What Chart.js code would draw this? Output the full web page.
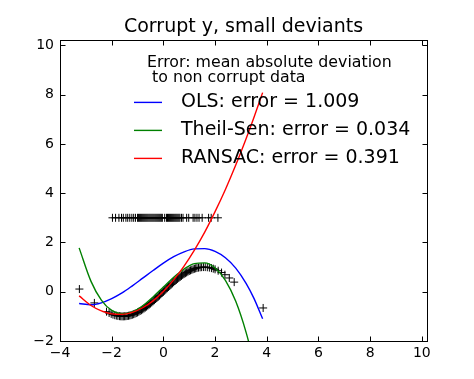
<!DOCTYPE html>
<html><head><meta charset="utf-8">
<script src="https://cdn.jsdelivr.net/npm/chart.js@4.4.0/dist/chart.umd.min.js"></script>
<style>html,body{margin:0;padding:0;background:#fff;overflow:hidden}</style>
</head><body>
<canvas id="c" width="474" height="379" style="display:block;width:474px;height:379px"></canvas>
<script>
// ---------- data ----------
const chartTitle = 'Corrupt y, small deviants';
const legendTitle = ['Error: mean absolute deviation', ' to non corrupt data'];
const seriesNames = ['OLS: error = 1.009', 'Theil-Sen: error = 0.034', 'RANSAC: error = 0.391'];
const seriesColors = ['#0000ff', '#008000', '#ff0000'];
const xTicks = [-4, -2, 0, 2, 4, 6, 8, 10];
const yTicks = [-2, 0, 2, 4, 6, 8, 10];

const xPlot   = [-3.26, -2.8, -2.4, -2.0, -1.6, -1.2, -0.8, -0.4, 0, 0.4, 0.8, 1.2, 1.6, 2.0, 2.4, 2.8, 3.2, 3.5, 3.84];
const olsY    = [-0.48, -0.53, -0.45, -0.28, -0.05, 0.24, 0.55, 0.86, 1.16, 1.42, 1.62, 1.74, 1.75, 1.64, 1.38, 0.96, 0.34, -0.26, -1.10];
const theilY  = [1.78, 0.42, -0.34, -0.76, -0.90, -0.82, -0.57, -0.21, 0.19, 0.59, 0.92, 1.14, 1.17, 0.96, 0.46, -0.39, -1.65, -2.90, -4.67];
const ransacY = [-0.17, -0.56, -0.78, -0.90, -0.92, -0.84, -0.65, -0.37, 0.01, 0.48, 1.04, 1.69, 2.42, 3.25, 4.15, 5.14, 6.21, 7.06, 8.08];

const inlierX = [-3.25, -2.67, -2.2, -2.1, -2.02, -1.95, -1.88, -1.82, -1.76, -1.7, -1.65, -1.6, -1.55, -1.5, -1.45, -1.4, -1.35, -1.3, -1.25, -1.2, -1.15, -1.1, -1.05, -1.0, -0.95, -0.9, -0.85, -0.8, -0.75, -0.7, -0.65, -0.6, -0.55, -0.5, -0.45, -0.4, -0.35, -0.3, -0.25, -0.2, -0.15, -0.1, -0.05, 0.0, 0.05, 0.1, 0.15, 0.2, 0.25, 0.3, 0.35, 0.4, 0.45, 0.5, 0.55, 0.6, 0.65, 0.7, 0.75, 0.8, 0.85, 0.9, 0.95, 1.0, 1.05, 1.1, 1.15, 1.2, 1.25, 1.3, 1.36, 1.42, 1.48, 1.55, 1.62, 1.7, 1.78, 1.86, 1.93, 2.0, 2.12, 2.25, 2.38, 2.55, 2.74, 3.86];
const inlierY = [0.108, -0.454, -0.808, -0.863, -0.901, -0.929, -0.953, -0.969, -0.982, -0.992, -0.997, -1.0, -1.0, -0.997, -0.993, -0.985, -0.976, -0.964, -0.949, -0.932, -0.913, -0.891, -0.867, -0.841, -0.813, -0.783, -0.751, -0.717, -0.682, -0.644, -0.605, -0.565, -0.523, -0.479, -0.435, -0.389, -0.343, -0.296, -0.247, -0.199, -0.149, -0.1, -0.05, 0.0, 0.05, 0.1, 0.149, 0.199, 0.247, 0.296, 0.343, 0.389, 0.435, 0.479, 0.523, 0.565, 0.605, 0.644, 0.682, 0.717, 0.751, 0.783, 0.813, 0.841, 0.867, 0.891, 0.913, 0.932, 0.949, 0.964, 0.978, 0.989, 0.996, 1.0, 0.999, 0.992, 0.978, 0.958, 0.936, 0.909, 0.853, 0.778, 0.69, 0.558, 0.39, -0.659];

const corruptX = [-1.97, -1.85, -1.72, -1.62, -1.55, -1.45, -1.38, -1.3, -1.22, -1.15, -1.08,
  -1.0, -0.96, -0.92, -0.88, -0.84, -0.8, -0.76, -0.72, -0.68, -0.64, -0.6, -0.56, -0.52, -0.48, -0.44, -0.4, -0.36, -0.32, -0.28, -0.24, -0.2, -0.16, -0.12, -0.08, -0.04,
  0.05, 0.12,
  0.16, 0.2, 0.24, 0.28, 0.32, 0.36, 0.4, 0.44, 0.48, 0.52, 0.56, 0.6, 0.64, 0.7, 0.76,
  0.9, 0.98, 1.15, 1.22, 1.3, 1.38, 1.5, 1.75, 1.85, 2.11];
const corruptY = [3, 3, 3, 3, 3, 3, 3, 3, 3,
  3, 3, 3, 3, 3, 3, 3, 3, 3,
  3, 3, 3, 3, 3, 3, 3, 3, 3,
  3, 3, 3, 3, 3, 3, 3, 3, 3,
  3, 3, 3, 3, 3, 3, 3, 3, 3,
  3, 3, 3, 3, 3, 3, 3, 3, 3,
  3, 3, 3, 3, 3, 3, 3, 3, 3];

// ---------- build chart ----------
const FONT = "'DejaVu Sans', 'Liberation Sans', sans-serif";
Chart.defaults.font.family = FONT;
Chart.defaults.color = '#000';

const zip = (xs, ys) => xs.map((x, i) => ({x: x, y: ys[i]}));
const fmt = v => (v < 0 ? '\u2212' + Math.abs(v) : String(v));

const lineDs = (i, ys, order) => ({
  type: 'scatter', label: seriesNames[i], data: zip(xPlot, ys), showLine: true,
  borderColor: seriesColors[i], backgroundColor: seriesColors[i], borderWidth: 1.4,
  pointRadius: 0, pointHoverRadius: 0, cubicInterpolationMode: 'monotone', order: order, clip: 0
});

const framePlugin = {
  id: 'frame',
  afterDatasetsDraw(chart) {
    const ctx = chart.ctx, ca = chart.chartArea;
    const xs = chart.scales.x, ys = chart.scales.y;
    ctx.save();
    ctx.strokeStyle = '#000'; ctx.lineWidth = 1;
    const L = Math.round(ca.left) + 0.5, R = Math.round(ca.right) + 0.5;
    const T = Math.round(ca.top) + 0.5, B = Math.round(ca.bottom) + 0.5;
    ctx.beginPath();
    xTicks.forEach(v => {
      const px = Math.round(xs.getPixelForValue(v)) + 0.5;
      ctx.moveTo(px, B); ctx.lineTo(px, B - 5);
      ctx.moveTo(px, T); ctx.lineTo(px, T + 5);
    });
    yTicks.forEach(v => {
      const py = Math.round(ys.getPixelForValue(v)) + 0.5;
      ctx.moveTo(L, py); ctx.lineTo(L + 5, py);
      ctx.moveTo(R, py); ctx.lineTo(R - 5, py);
    });
    ctx.stroke();
    ctx.strokeRect(L, T, R - L, B - T);

    // legend (upper right, inside the axes)
    ctx.fillStyle = '#000';
    ctx.textBaseline = 'middle'; ctx.textAlign = 'left';
    ctx.font = '15.8px ' + FONT;
    ctx.fillText(legendTitle[0], ca.left + 87, ca.top + 22);
    ctx.fillText(legendTitle[1], ca.left + 87, ca.top + 37);
    ctx.font = '19px ' + FONT;
    const ds = chart.data.datasets.filter(d => d.showLine);
    ds.forEach((d, i) => {
      const yy = ca.top + 62 + i * 28;
      ctx.strokeStyle = d.borderColor; ctx.lineWidth = 1.4;
      ctx.beginPath(); ctx.moveTo(ca.left + 74, yy); ctx.lineTo(ca.left + 102, yy); ctx.stroke();
      ctx.fillText(d.label, ca.left + 121, yy);
    });
    ctx.restore();
  }
};

new Chart(document.getElementById('c'), {
  type: 'scatter',
  data: {
    datasets: [
      lineDs(0, olsY, 3),
      lineDs(1, theilY, 2),
      lineDs(2, ransacY, 1),
      { type: 'scatter', label: 'data', data: zip(inlierX, inlierY).concat(zip(corruptX, corruptY)),
        pointStyle: 'cross', pointRadius: 4, pointHoverRadius: 4, borderColor: '#000', backgroundColor: '#000',
        borderWidth: 1, showLine: false, order: 10 }
    ]
  },
  options: {
    responsive: false, animation: false, devicePixelRatio: 1,
    layout: { padding: { left: 0, right: 47, top: 0, bottom: 0 } },
    plugins: {
      legend: { display: false },
      tooltip: { enabled: false },
      title: { display: true, text: chartTitle, fullSize: false, color: '#000',
        font: { size: 19, weight: 'normal', family: FONT }, padding: { top: 15.6, bottom: 2 } }
    },
    scales: {
      x: {
        type: 'linear', min: -4, max: 10.2,
        afterBuildTicks: s => { s.ticks = xTicks.map(v => ({ value: v })); },
        afterFit: s => { s.height = 38; },
        grid: { display: false, drawTicks: false }, border: { display: false },
        ticks: { autoSkip: false, maxRotation: 0, padding: 4, color: '#000', font: { size: 14 }, callback: v => fmt(v) }
      },
      y: {
        type: 'linear', min: -2, max: 10.2,
        afterBuildTicks: s => { s.ticks = yTicks.map(v => ({ value: v })); },
        afterFit: s => { s.width = 60; },
        grid: { display: false, drawTicks: false }, border: { display: false },
        ticks: { autoSkip: false, padding: 6, color: '#000', font: { size: 14 }, callback: v => fmt(v) }
      }
    }
  },
  plugins: [framePlugin]
});
</script>
</body></html>
